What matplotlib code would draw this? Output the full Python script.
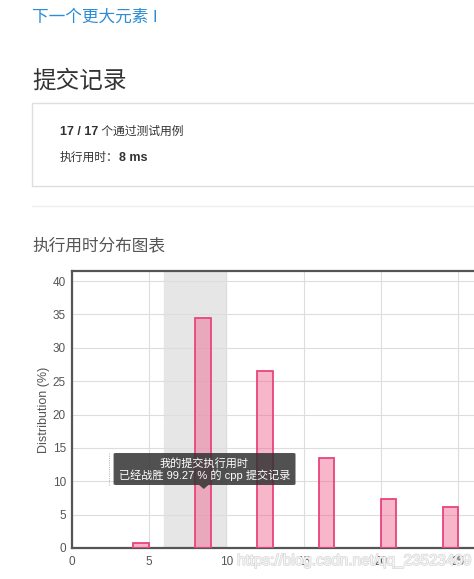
import matplotlib
matplotlib.use('Agg')
import matplotlib.pyplot as plt
from matplotlib.patches import Rectangle, FancyBboxPatch, Polygon
from matplotlib.lines import Line2D
import matplotlib.patheffects as pe

plt.rcParams['font.family'] = ['Liberation Sans', 'Noto Sans CJK SC', 'DejaVu Sans']

# data
bin_starts = [4, 8, 12, 16, 20, 24]
distribution = [0.8, 34.5, 26.5, 13.5, 7.4, 6.1]
my_bin = (6, 10)
x_ticks = [0, 5, 10, 15, 20, 25]
y_ticks = [0, 5, 10, 15, 20, 25, 30, 35, 40]

problem_title = '下一个更大元素 I'
page_title = '提交记录'
passed = '17 / 17'
passed_label = ' 个通过测试用例'
runtime_label = '执行用时：'
runtime = '8 ms'
chart_title = '执行用时分布图表'
tooltip_lines = ['我的提交执行用时', '已经战胜 99.27 % 的 cpp 提交记录']
watermark = 'https://blog.csdn.net/qq_23523409'

W, H = 474, 579
fig = plt.figure(figsize=(W / 100, H / 100), dpi=100)
fig.patch.set_facecolor('white')


def px(x, y):
    # pixel coords (from top-left) to figure fraction
    return x / W, 1 - y / H


# page header
fig.text(*px(32, 17), problem_title, color='#2d8cd4', fontsize=12, va='center')
fig.text(*px(32, 81), page_title, color='#333333', fontsize=17, va='center')

box = Rectangle(px(32, 186), (W + 10) / W, (186 - 103) / H, transform=fig.transFigure,
                fill=False, edgecolor='#dedede', linewidth=1)
fig.add_artist(box)

t = fig.text(*px(60, 132), passed, color='#333333', fontsize=9, fontweight='bold', va='center')
fig.canvas.draw()
bb = t.get_window_extent()
fig.text(bb.x1 / W, 1 - 132 / H, passed_label, color='#333333', fontsize=8.5, va='center')
t2 = fig.text(*px(60, 158), runtime_label, color='#333333', fontsize=8.5, va='center')
fig.canvas.draw()
bb2 = t2.get_window_extent()
fig.text(bb2.x1 / W, 1 - 158 / H, runtime, color='#333333', fontsize=9, fontweight='bold', va='center')

fig.add_artist(Line2D([32 / W, 1], [1 - 206 / H] * 2, transform=fig.transFigure,
                      color='#eeeeee', linewidth=1))
fig.text(*px(32, 245), chart_title, color='#555555', fontsize=12, va='center')

# chart
ax_left, ax_bottom, ax_top = 71.5, 548, 271
ax_w = 27 * 15.47
ax = fig.add_axes([ax_left / W, 1 - ax_bottom / H, ax_w / W, (ax_bottom - ax_top) / H])
ax.set_xlim(0, 27)
ax.set_ylim(0, 41.5)

ax.axvspan(my_bin[0], my_bin[1], color='#e6e6e6', zorder=0)
ax.bar(bin_starts, distribution, width=1, align='edge',
       color=(0.94, 0.37, 0.55, 0.45), edgecolor='#e8457b', linewidth=1.3, zorder=3)

ax.set_xticks(x_ticks)
ax.set_yticks(y_ticks)
ax.grid(True, color='#dddddd', linewidth=0.8, zorder=1)
ax.set_axisbelow(True)
ax.tick_params(length=0, labelsize=8.5, colors='#555555', pad=6)
ax.tick_params(axis='y', pad=4)
for s in ['left', 'bottom', 'top']:
    ax.spines[s].set_color('#555555')
    ax.spines[s].set_linewidth(1.6)
ax.spines['right'].set_visible(False)
ax.set_ylabel('Distribution (%)', fontsize=9, color='#555555', labelpad=2)

# tooltip
tx0, tx1 = 2.72, 14.48
ty0, ty1 = 9.44, 14.23
tip = FancyBboxPatch((tx0, ty0), tx1 - tx0, ty1 - ty0, boxstyle='round,pad=0,rounding_size=0.15',
                     facecolor=(0.2, 0.2, 0.2, 0.85), edgecolor='none', zorder=6)
ax.add_patch(tip)
ax.add_patch(Polygon([(8.25, ty0), (8.85, ty0), (8.55, ty0 - 0.6)], closed=True,
                     facecolor=(0.2, 0.2, 0.2, 0.85), edgecolor='none', zorder=6))
ax.plot([2.45, 2.45], [ty0, ty1], color='#999999', linewidth=0.6, linestyle=':', zorder=6)
ax.text((tx0 + tx1) / 2, ty0 + (ty1 - ty0) * 0.68, tooltip_lines[0], color='white',
        fontsize=8, ha='center', va='center', zorder=7)
ax.text((tx0 + tx1) / 2, ty0 + (ty1 - ty0) * 0.3, tooltip_lines[1], color='white',
        fontsize=8, ha='center', va='center', zorder=7)

# watermark (overlays the x tick labels, as in the screenshot)
fig.text(*px(237, 561), watermark, color='#f4f4f4', fontsize=11, va='center',
         path_effects=[pe.withStroke(linewidth=1.0, foreground='#d8d8d8')], zorder=10)

fig.savefig('out.png', dpi=100)
